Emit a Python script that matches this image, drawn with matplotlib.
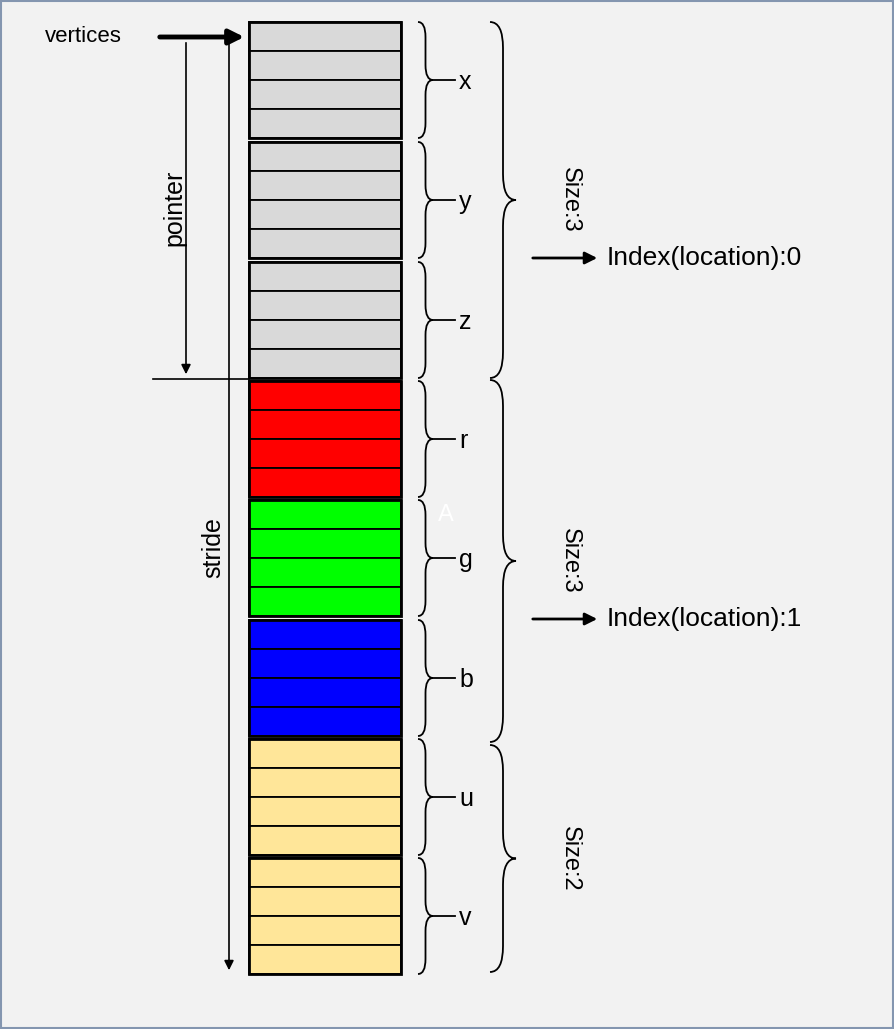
import matplotlib
matplotlib.use("Agg")
import matplotlib.pyplot as plt
from matplotlib.path import Path
from matplotlib.patches import PathPatch, Rectangle

components = ["x", "y", "z", "r", "g", "b", "u", "v"]
colors = ["#d9d9d9"]*3 + ["#ff0000", "#00ff00", "#0000ff"] + ["#ffe699"]*2
tops = [22, 142, 262, 381, 500, 620, 739, 858]
groups = [(22, 378, "Size:3", "Index(location):0"), (380, 742, "Size:3", "Index(location):1"), (745, 972, "Size:2", None)]
bytes_per = 4

plt.rcParams['font.family'] = ['Liberation Sans', 'DejaVu Sans']
fig = plt.figure(figsize=(8.94, 10.29), dpi=100)
fig.patch.set_facecolor("#f2f2f2")
ax = fig.add_axes([0, 0, 1, 1])
ax.set_xlim(0, 894); ax.set_ylim(1029, 0); ax.axis("off")
ax.add_patch(Rectangle((1, 1), 892, 1027, fill=False, ec="#8496b0", lw=1.5))

def brace(x0, y0, y1, w, lw=1.3):
    ym = (y0 + y1) / 2; r = min(w, (y1 - y0) / 4)
    xm = x0 + w / 2; xt = x0 + w
    v = [(x0, y0), (xm, y0), (xm, y0 + r), (xm, ym - r), (xm, ym), (xt, ym),
         (xm, ym), (xm, ym + r), (xm, y1 - r), (xm, y1), (x0, y1)]
    c = [Path.MOVETO, Path.CURVE3, Path.CURVE3, Path.LINETO, Path.CURVE3, Path.CURVE3,
         Path.CURVE3, Path.CURVE3, Path.LINETO, Path.CURVE3, Path.CURVE3]
    ax.add_patch(PathPatch(Path(v, c), fill=False, lw=lw, ec="black"))

h = 116
for name, col, t in zip(components, colors, tops):
    rh = h / bytes_per
    for i in range(bytes_per):
        ax.add_patch(Rectangle((249, t + i * rh), 152, rh, fc=col, ec="black", lw=1.3))
    ax.add_patch(Rectangle((249, t), 152, h, fill=False, ec="black", lw=2))
    brace(418, t, t + h, 15)
    ax.plot([433, 455], [t + h / 2] * 2, color="black", lw=1.3)
    ax.text(459, t + h / 2 + 2, name, fontsize=18, va="center", ha="left")

for (a, b, s, idx) in groups:
    brace(490, a, b, 26)
    ax.text(570, (a + b) / 2, s, fontsize=17, rotation=-90, va="center", ha="center")
    if idx:
        y = (a + b) / 2 + 58
        ax.annotate("", xy=(600, y), xytext=(530, y),
                    arrowprops=dict(arrowstyle="-|>", lw=2, color="black", mutation_scale=18))
        ax.text(607, y, idx, fontsize=19, va="center", ha="left")

ax.text(45, 36, "vertices", fontsize=16, va="center", ha="left")
ax.annotate("", xy=(247, 37), xytext=(157, 37),
            arrowprops=dict(arrowstyle="-|>", lw=3.5, color="black", mutation_scale=22))
ax.annotate("", xy=(186, 377), xytext=(186, 40),
            arrowprops=dict(arrowstyle="-|>", lw=1.2, color="black", mutation_scale=14))
ax.text(174, 208, "pointer", fontsize=18, rotation=90, va="center", ha="center")
ax.plot([153, 249], [379, 379], color="black", lw=1.2)
ax.annotate("", xy=(229, 973), xytext=(229, 40),
            arrowprops=dict(arrowstyle="-|>", lw=1.2, color="black", mutation_scale=14))
ax.text(213, 548, "stride", fontsize=18, rotation=90, va="center", ha="center")
ax.text(438, 515, "A", fontsize=17, color="white", va="center")
fig.savefig("out.png", dpi=100, facecolor=fig.get_facecolor())
